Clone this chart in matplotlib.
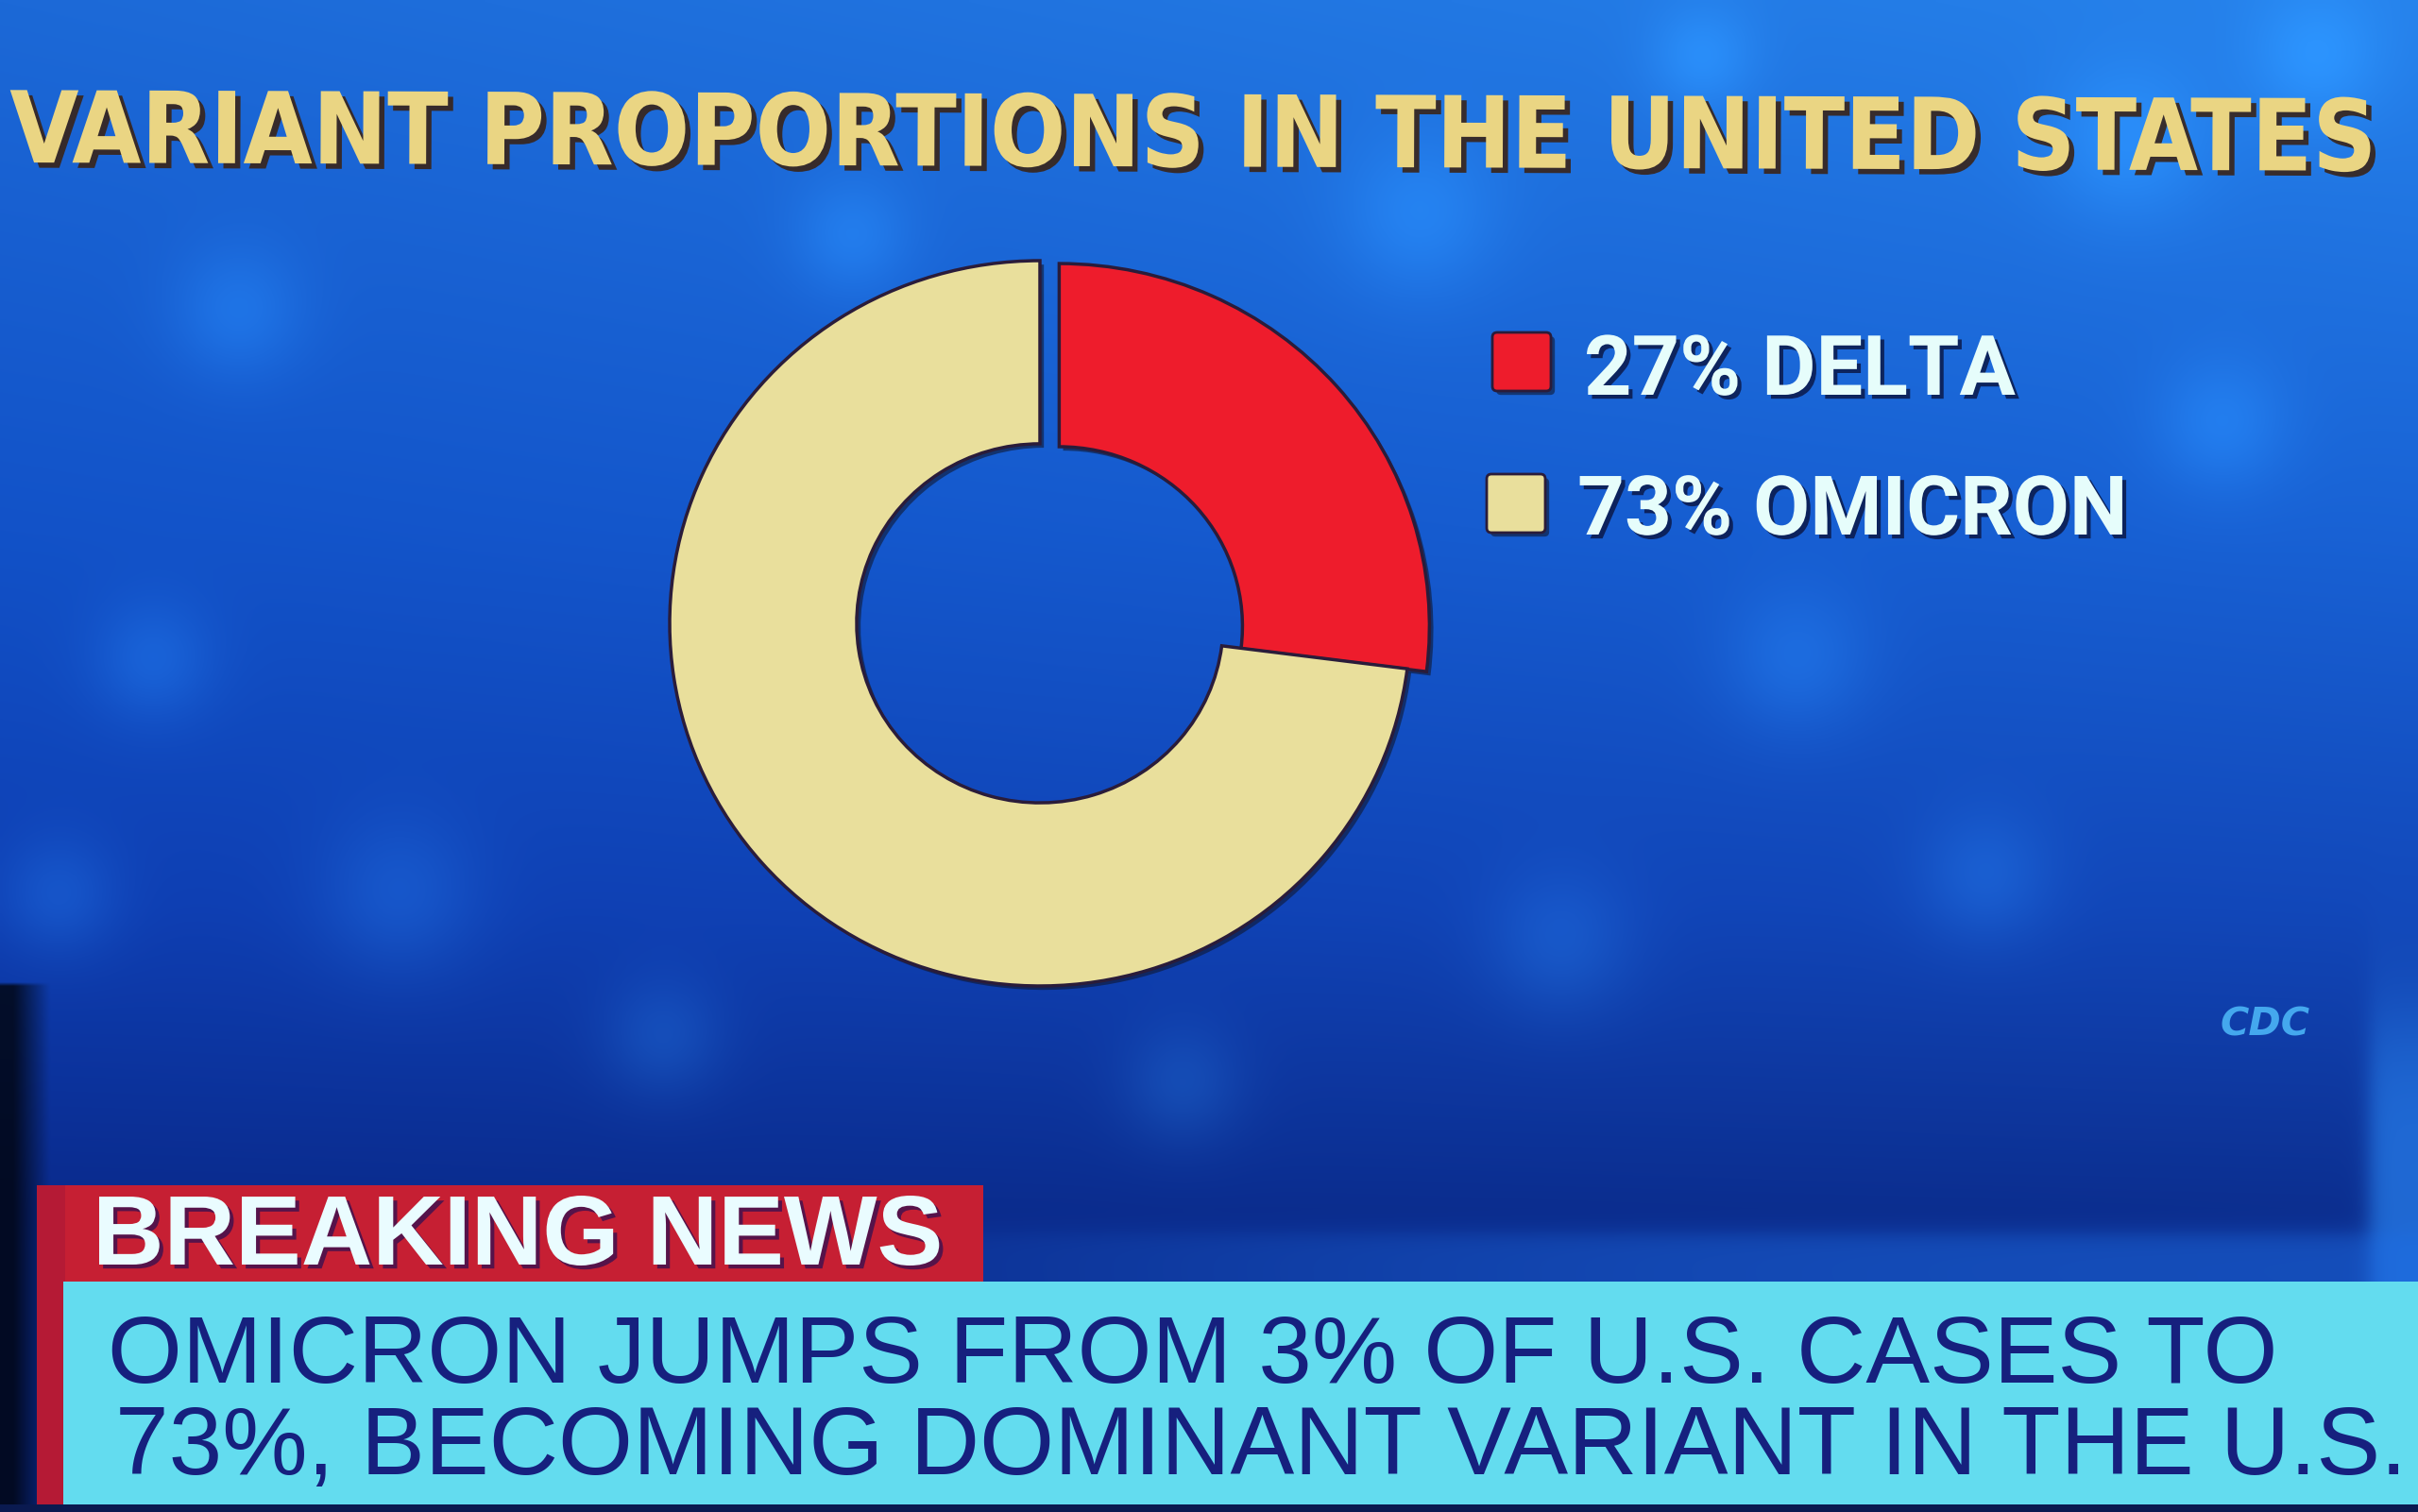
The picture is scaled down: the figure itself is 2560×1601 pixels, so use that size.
import numpy as np
import matplotlib
matplotlib.use("Agg")
import matplotlib.pyplot as plt
from matplotlib import patheffects as pe
from matplotlib.patches import Rectangle, FancyBboxPatch

# ---------------- data ----------------
variants = ["DELTA", "OMICRON"]
shares = [27, 73]
colors = ["#ee1c2c", "#e9df9c"]
title = "VARIANT PROPORTIONS IN THE UNITED STATES"
source = "CDC"
flash = "BREAKING NEWS"
headline = ["OMICRON JUMPS FROM 3% OF U.S. CASES TO",
            "73%, BECOMING DOMINANT VARIANT IN THE U.S."]

W, H = 2560, 1601
fig = plt.figure(figsize=(W / 100, H / 100), dpi=100)
bg = fig.add_axes([0, 0, 1, 1])

# ---------------- background ----------------
yy, xx = np.mgrid[0:H:4, 0:W:4].astype(float)
yn, xn = yy / H, xx / W
stops_y = [0.0, 0.35, 0.6, 0.8]
cr = np.interp(yn, stops_y, [28, 18, 14, 10])
cg = np.interp(yn, stops_y, [105, 82, 62, 42])
cb = np.interp(yn, stops_y, [215, 200, 178, 140])
img = np.stack([cr, cg, cb], axis=-1)
img += (xn * (1 - yn))[..., None] * np.array([10, 25, 20])
spots = [(250, 330, 50), (1500, 230, 60), (1900, 700, 55), (420, 950, 60),
         (2100, 930, 50), (1650, 1000, 55), (700, 1100, 45), (160, 700, 45),
         (2350, 450, 50), (1250, 1150, 45), (900, 250, 45), (2250, 150, 60),
         (1800, 60, 40), (2450, 60, 50), (60, 950, 45)]
for sx, sy, sr in spots:
    g = np.exp(-((xx - sx) ** 2 + (yy - sy) ** 2) / (2 * sr ** 2))
    img += g[..., None] * np.array([8, 22, 22])
# brighter area beyond the panel (right) and below it
sig = lambda v: 1 / (1 + np.exp(-v))
m_r = sig((xx - 2507) / 6) * sig((yy - 1080) / 40)
img = img * (1 - 0.7 * m_r[..., None]) + 0.7 * m_r[..., None] * np.array([40, 130, 240])
m_b = sig((yy - 1307) / 6) * sig((xx - 1300) / 300)
img = img * (1 - 0.5 * m_b[..., None]) + 0.5 * m_b[..., None] * np.array([30, 110, 230])
# dark left bezel
dark = np.clip(xn / 0.02, 0.25, 1.0)
img *= np.where(yn > 0.65, dark, 1.0)[..., None]
img = np.clip(img, 0, 255) / 255.0

bg.imshow(img, extent=(0, W, H, 0), aspect="auto", interpolation="bilinear", zorder=0)
bg.set_xlim(0, W)
bg.set_ylim(H, 0)
bg.axis("off")

# ---------------- donut ----------------
cx, cy, rx, ry = 1101, 660, 392, 384
hx, hy = 1.25 * rx, 1.25 * ry
pax = fig.add_axes([(cx - hx) / W, (H - cy - hy) / H, 2 * hx / W, 2 * hy / H])
wedges, _ = pax.pie(shares, colors=colors, startangle=90, counterclock=False,
                    radius=1.0,
                    wedgeprops=dict(width=0.505, edgecolor="#2a1c3a", linewidth=2.5))
wedges[0].set_center((0.052, -0.008))
for w in wedges:
    w.set_path_effects([pe.SimplePatchShadow(offset=(3, -3), shadow_rgbFace="#101830", alpha=0.6),
                        pe.Normal()])
pax.set_xlim(-1.25, 1.25)
pax.set_ylim(-1.25, 1.25)
pax.set_aspect("auto")
pax.axis("off")

fig.canvas.draw()
renderer = fig.canvas.get_renderer()


def fit(t, target_w):
    bb = t.get_window_extent(renderer)
    t.set_fontsize(t.get_fontsize() * target_w / bb.width)


# ---------------- title ----------------
tt = bg.text(10, 172, title, color="#ead583", fontsize=80, fontweight="bold",
             family=["DejaVu Sans"], fontstretch="condensed", ha="left", va="baseline",
             rotation=-0.2, rotation_mode="anchor",
             path_effects=[pe.withSimplePatchShadow(offset=(4, -4), shadow_rgbFace="#3a2418", alpha=0.9)])
fit(tt, 2505)

# ---------------- legend ----------------
leg_rows = [(1580, 352, 1677, 418, 2134), (1574, 502, 1670, 566, 2253)]
for (sx, sy, tx, base, tx1), name, val, col in zip(leg_rows, variants, shares, colors):
    sq = FancyBboxPatch((sx, sy), 62, 62, boxstyle="round,pad=0,rounding_size=5",
                        facecolor=col, edgecolor="#2a1c3a", linewidth=2, zorder=3)
    sq.set_path_effects([pe.SimplePatchShadow(offset=(3, -3), shadow_rgbFace="#101830", alpha=0.6),
                         pe.Normal()])
    bg.add_patch(sq)
    lt = bg.text(tx, base, f"{val}% {name}", color="#e6fdfb", fontsize=60, fontweight="bold",
                 family=["Roboto", "DejaVu Sans"], ha="left", va="baseline", zorder=4,
                 path_effects=[pe.withSimplePatchShadow(offset=(3, -3), shadow_rgbFace="#0a1440", alpha=0.8)])
    fit(lt, tx1 - tx)

# ---------------- source ----------------
st = bg.text(2351, 1096, source, color="#44a8ee", fontsize=26, fontweight="bold", style="italic",
             family=["DejaVu Sans"], ha="left", va="baseline")
fit(st, 95)

# ---------------- breaking news banner ----------------
bg.add_patch(Rectangle((39, 1255), 1002, 102, facecolor="#c61f33", edgecolor="none", zorder=2))
bg.add_patch(Rectangle((39, 1255), 30, 340, facecolor="#b51a35", edgecolor="none", zorder=2))
bg.add_patch(Rectangle((67, 1357), W - 67, 236, facecolor="#63dcef", edgecolor="none", zorder=2))
bg.add_patch(Rectangle((0, 1593), W, 8, facecolor="#0a1a50", edgecolor="none", zorder=2))

bt = bg.text(98, 1339, flash, color="#eafcff", fontsize=60, fontweight="bold",
             family=["Liberation Sans", "DejaVu Sans"], ha="left", va="baseline", zorder=4,
             path_effects=[pe.withSimplePatchShadow(offset=(3, -3), shadow_rgbFace="#3a1050", alpha=0.8)])
fit(bt, 901)

line_pos = [(114, 1464, 2413), (122, 1561, 2552)]
for (x0, base, x1), line in zip(line_pos, headline):
    ht = bg.text(x0, base, line, color="#16207e", fontsize=60,
                 family=["Liberation Sans Narrow", "Liberation Sans", "DejaVu Sans"],
                 fontstretch="condensed", ha="left", va="baseline", zorder=4)
    fit(ht, x1 - x0)

fig.savefig("out.png", dpi=100)
